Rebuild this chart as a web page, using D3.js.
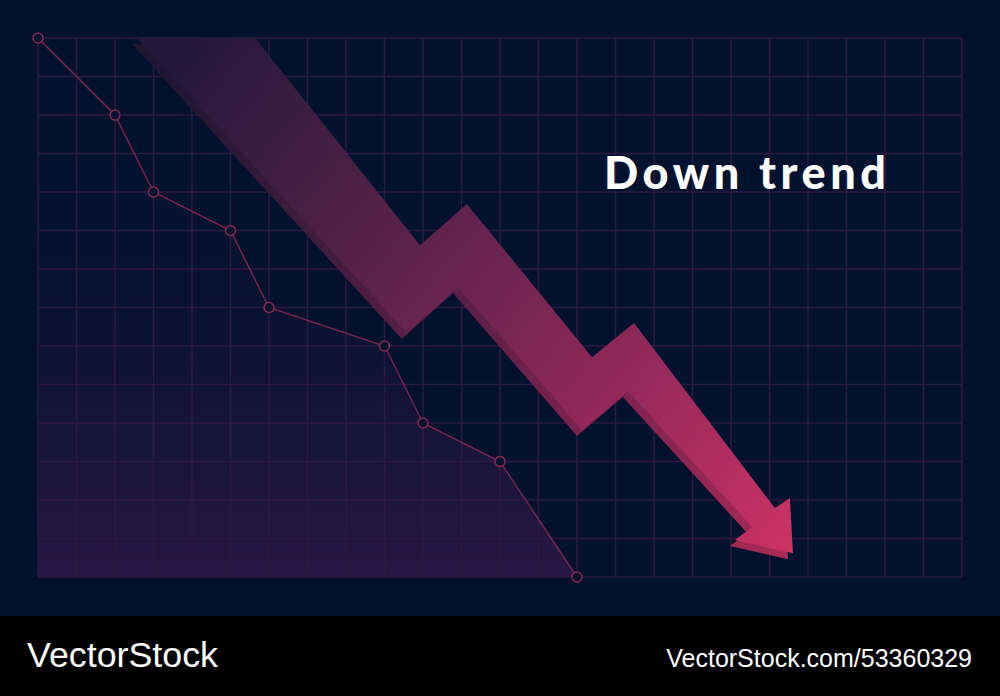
<!DOCTYPE html>
<html>
<head>
<meta charset="utf-8">
<script src="https://cdn.jsdelivr.net/npm/d3@7"></script>
<style>
  html, body { margin: 0; padding: 0; background: #000; }
  svg { display: block; }
</style>
</head>
<body>
<div id="chart"></div>
<script>
// grid size in units
const gridCols = 24;
const gridRows = 14;

// falling line (grid units, y counted from bottom)
const lineX = [0, 2, 3, 5, 6, 9, 10, 12, 14];
const lineY = [14, 12, 10, 9, 7, 6, 4, 3, 0];

// zigzag arrow outline (grid units)
const arrowX = [2.57, 5.64, 9.92, 11.14, 14.39, 15.48, 19.14, 19.53, 19.61, 18.10, 18.55, 15.32, 14.13, 10.91, 9.58];
const arrowY = [14, 14, 8.62, 9.69, 5.71, 6.60, 1.79, 2.05, 0.62, 0.96, 1.30, 4.83, 3.82, 7.53, 6.34];

const title = "Down trend";
const brandLeft = "VectorStock";
const brandRight = "VectorStock.com/53360329";

const width = 1000, height = 696;
const svg = d3.select("#chart").append("svg").attr("width", width).attr("height", height);

// background
svg.append("rect").attr("width", width).attr("height", 616).attr("fill", "#01112e");
svg.append("rect").attr("y", 616).attr("width", width).attr("height", 80).attr("fill", "#000");

const x = d3.scaleLinear().domain([0, gridCols]).range([38, 962]);
const y = d3.scaleLinear().domain([0, gridRows]).range([577, 38]);

const defs = svg.append("defs");

defs.append("clipPath").attr("id", "plotClip")
    .append("rect").attr("x", 0).attr("y", y(gridRows)).attr("width", width).attr("height", 600);

const areaGrad = defs.append("linearGradient").attr("id", "areaGrad")
    .attr("x1", 0).attr("y1", 0).attr("x2", 0).attr("y2", 1);
areaGrad.append("stop").attr("offset", "0%").attr("stop-color", "#2a1642").attr("stop-opacity", 0);
areaGrad.append("stop").attr("offset", "45%").attr("stop-color", "#2a1642").attr("stop-opacity", 0.15);
areaGrad.append("stop").attr("offset", "100%").attr("stop-color", "#3a1a4c").attr("stop-opacity", 0.7);

const arrowGrad = defs.append("linearGradient").attr("id", "arrowGrad")
    .attr("gradientUnits", "userSpaceOnUse")
    .attr("x1", x(4)).attr("y1", y(14)).attr("x2", x(19.6)).attr("y2", y(0.8));
arrowGrad.append("stop").attr("offset", "0%").attr("stop-color", "#23183a");
arrowGrad.append("stop").attr("offset", "40%").attr("stop-color", "#5f234c");
arrowGrad.append("stop").attr("offset", "70%").attr("stop-color", "#92295a");
arrowGrad.append("stop").attr("offset", "100%").attr("stop-color", "#cc3264");

const sideGrad = defs.append("linearGradient").attr("id", "sideGrad")
    .attr("gradientUnits", "userSpaceOnUse")
    .attr("x1", x(4)).attr("y1", y(14)).attr("x2", x(19.6)).attr("y2", y(0.8));
sideGrad.append("stop").attr("offset", "0%").attr("stop-color", "#1e1633");
sideGrad.append("stop").attr("offset", "40%").attr("stop-color", "#501e42");
sideGrad.append("stop").attr("offset", "70%").attr("stop-color", "#7c234f");
sideGrad.append("stop").attr("offset", "100%").attr("stop-color", "#a82a55");

// area under the line
const pts = lineX.map((d, i) => ({ x: d, y: lineY[i] }));
const area = d3.area().x(d => x(d.x)).y0(y(0)).y1(d => y(d.y));
svg.append("path").datum(pts).attr("d", area).attr("fill", "url(#areaGrad)");

// grid
const grid = svg.append("g").attr("stroke", "#2d1a40").attr("stroke-width", 1.5);
grid.selectAll(".v").data(d3.range(0, gridCols + 1)).enter().append("line")
    .attr("x1", d => x(d)).attr("x2", d => x(d)).attr("y1", y(0)).attr("y2", y(gridRows));
grid.selectAll(".h").data(d3.range(0, gridRows + 1)).enter().append("line")
    .attr("y1", d => y(d)).attr("y2", d => y(d)).attr("x1", x(0)).attr("x2", x(gridCols));

// arrow: side face (shifted copy) then top face
const arrowPts = arrowX.map((d, i) => [x(d), y(arrowY[i])]);
const arrowLine = d3.line().curve(d3.curveLinearClosed);
const arrowG = svg.append("g").attr("clip-path", "url(#plotClip)");
arrowG.append("path").attr("d", arrowLine(arrowPts))
    .attr("transform", "translate(-5,6)")
    .attr("fill", "url(#sideGrad)");
arrowG.append("path").attr("d", arrowLine(arrowPts)).attr("fill", "url(#arrowGrad)");

// line with markers
const line = d3.line().x(d => x(d.x)).y(d => y(d.y));
svg.append("path").datum(pts).attr("d", line)
    .attr("fill", "none").attr("stroke", "#7a2550").attr("stroke-width", 1.5);
svg.append("g").selectAll("circle").data(pts).enter().append("circle")
    .attr("cx", d => x(d.x)).attr("cy", d => y(d.y)).attr("r", 5)
    .attr("fill", "#01112e").attr("stroke", "#8a2856").attr("stroke-width", 1.5);

// title
svg.append("text")
    .attr("x", 604).attr("y", 189)
    .attr("font-family", "Lato, 'Open Sans', sans-serif")
    .attr("font-weight", 900).attr("font-size", 45)
    .attr("fill", "#ffffff")
    .attr("textLength", 282).attr("lengthAdjust", "spacing")
    .text(title);

// watermark bar
svg.append("text")
    .attr("x", 27).attr("y", 667)
    .attr("font-family", "'Liberation Sans', Arial, sans-serif")
    .attr("font-size", 35).attr("fill", "#fff")
    .attr("textLength", 191).attr("lengthAdjust", "spacingAndGlyphs")
    .text(brandLeft);
svg.append("text")
    .attr("x", 972).attr("y", 667).attr("text-anchor", "end")
    .attr("font-family", "'Liberation Sans', Arial, sans-serif")
    .attr("font-size", 25).attr("fill", "#fff")
    .text(brandRight);
</script>
</body>
</html>
